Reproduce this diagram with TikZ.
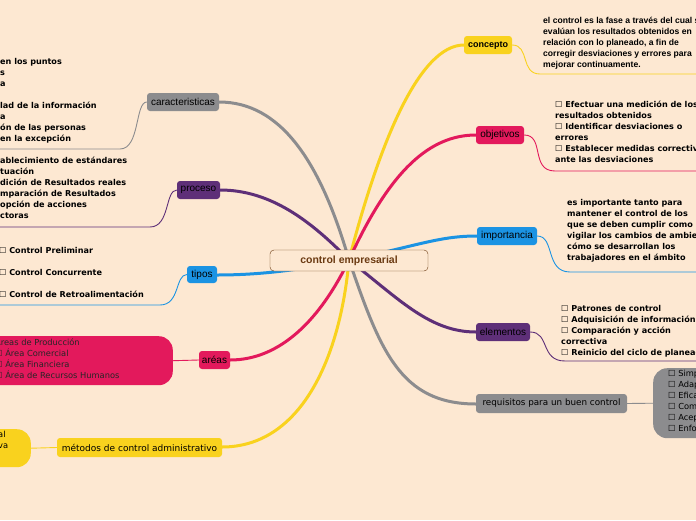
\documentclass[tikz,border=0pt]{standalone}
\usepackage{fontspec}
\setmainfont{Liberation Sans}
\newfontfamily\dvs{DejaVu Sans}
\begin{document}
\begin{tikzpicture}[x=1pt,y=-1pt,
 lab/.style={rounded corners=3pt,inner sep=0pt,text=#1,font=\fontsize{10}{11}\selectfont},
 lst/.style={anchor=north west,align=left,inner sep=0pt,font=\dvs\bfseries\fontsize{8.1}{11}\selectfont},
 reg/.style={anchor=north west,align=left,inner sep=0pt,font=\dvs\fontsize{8.3}{11}\selectfont},
 br/.style={line width=3pt,draw=#1},
 tw/.style={line width=0.9pt,draw=#1}]
\definecolor{bg}{HTML}{FDE8D2}
\definecolor{cy}{HTML}{F9D21E}
\definecolor{cr}{HTML}{E3195C}
\definecolor{cb}{HTML}{1B93E3}
\definecolor{cp}{HTML}{5E2F78}
\definecolor{cg}{HTML}{8C8C8E}
\definecolor{brn}{HTML}{6B3A12}
\clip (0,0) rectangle (696,520);
\fill[bg] (0,0) rectangle (696,520);
\coordinate (c) at (349,260);
% main branches
\draw[br=cg] (c) .. controls (320,160) and (280,102) .. (219,102);
\draw[br=cy] (c) .. controls (380,140) and (420,45) .. (464,45);
\draw[br=cr] (c) .. controls (390,170) and (430,135) .. (476,135);
\draw[br=cb] (c) .. controls (420,245) and (440,236) .. (477,236);
\draw[br=cp] (c) .. controls (400,300) and (430,332) .. (476,332);
\draw[br=cg] (c) .. controls (380,350) and (400,404) .. (476,404);
\draw[br=cp] (c) .. controls (310,220) and (270,190) .. (220,190);
\draw[br=cb] (c) .. controls (300,270) and (260,275) .. (217,275);
\draw[br=cr] (c) .. controls (320,320) and (280,360) .. (230,360);
\draw[br=cy] (c) .. controls (340,360) and (300,447) .. (222,447);
% center
\node[draw=brn,fill=bg,rounded corners=4pt,minimum width=158pt,minimum height=21pt,text=brn,font=\bfseries\fontsize{10.5}{11}\selectfont] (ce) at (349,260.5) {control empresarial};
% right side
\node[lab=black,fill=cy,minimum width=48pt,minimum height=18pt,font=\bfseries\fontsize{9}{10}\selectfont] (co) at (488,45) {concepto};
\draw[tw=cy] (co.east) .. controls (530,45) and (520,74) .. (540,74) -- (696,74);
\node[anchor=north west,align=left,inner sep=0pt,font=\bfseries\fontsize{8.6}{11}\selectfont] at (543,17) {el control es la fase a través del cual se\\evalúan los resultados obtenidos en\\relación con lo planeado, a fin de\\corregir desviaciones y errores para\\mejorar continuamente.};
\node[lab=black,fill=cr,minimum width=48pt,minimum height=18pt] (ob) at (500,135) {objetivos};
\draw[tw=cr] (ob.east) .. controls (545,135) and (530,171) .. (555,171) -- (696,171);
\node[lst] at (555,101) {☐ Efectuar una medición de los\\resultados obtenidos\\☐ Identificar desviaciones o\\errores\\☐ Establecer medidas correctivas\\ante las desviaciones};
\node[lab=black,fill=cb,minimum width=60pt,minimum height=18pt] (im) at (507,236) {importancia};
\draw[tw=cb] (im.east) .. controls (555,236) and (545,272) .. (570,272) -- (696,272);
\node[lst] at (567,199) {es importante tanto para\\mantener el control de los\\que se deben cumplir como\\vigilar los cambios de ambiente\\cómo se desarrollan los\\trabajadores en el ámbito};
\node[lab=black,fill=cp,minimum width=54pt,minimum height=18pt] (el) at (503,332) {elementos};
\draw[tw=cp] (el.east) .. controls (550,332) and (540,361) .. (565,361) -- (696,361);
\node[lst] at (561,305) {☐ Patrones de control\\☐ Adquisición de información\\☐ Comparación y acción\\correctiva\\☐ Reinicio del ciclo de planeación};
\node[lab=black,fill=cg,minimum width=151pt,minimum height=19pt,font=\dvs\fontsize{8.8}{10}\selectfont] (rq) at (551.5,403.5) {requisitos para un buen control};
\node[fill=cg,rounded corners=14pt,anchor=north west,minimum width=80pt,minimum height=70pt,inner sep=0pt] (rb) at (653,368) {};
\draw[tw=cg] (rq.east) -- (rb.west);
\node[reg] at (668,370) {☐ Simple\\☐ Adaptable\\☐ Eficaz\\☐ Comprensible\\☐ Aceptado\\☐ Enfocado};
% left side
\node[lab=black,fill=cg,minimum width=72pt,minimum height=18pt] (ca) at (183,102) {caracteristicas};
\draw[tw=cg] (ca.west) .. controls (135,102) and (140,149) .. (120,149) -- (0,149);
\node[lst] at (0,58) {en los puntos\\s\\a\\\\lad de la información\\a\\ón de las personas\\en la excepción};
\node[lab=black,fill=cp,minimum width=43pt,minimum height=18pt] (pr) at (198.5,190) {proceso};
\draw[tw=cp] (pr.west) .. controls (165,190) and (170,227) .. (150,227) -- (0,227);
\node[lst] at (0,157) {ablecimiento de estándares\\tuación\\dición de Resultados reales\\mparación de Resultados\\opción de acciones\\ctoras};
\node[lab=black,fill=cb,minimum width=30pt,minimum height=17pt] (ti) at (202,274.5) {tipos};
\draw[tw=cb] (ti.west) .. controls (175,275) and (180,305) .. (160,305) -- (0,305);
\node[lst] at (-1,247) {☐ Control Preliminar\\[11pt]☐ Control Concurrente\\[11pt]☐ Control de Retroalimentación};
\node[lab=black,fill=cr,minimum width=31pt,minimum height=18pt] (ar) at (214.5,360) {aréas};
\node[fill=cr,rounded corners=14pt,anchor=north east,minimum width=200pt,minimum height=49pt,inner sep=0pt] (ab) at (173,336) {};
\draw[tw=cr] (ab.east) -- (ar.west);
\node[reg,text=black!85] at (-5,338) {Áreas de Producción\\☐ Área Comercial\\☐ Área Financiera\\☐ Área de Recursos Humanos};
\node[reg] at (-27,338) {☐};
\node[lab=black,fill=cy,minimum width=165pt,minimum height=19pt,font=\dvs\fontsize{9}{10}\selectfont] (me) at (139.5,447.5) {métodos de control administrativo};
\node[fill=cy,rounded corners=14pt,anchor=north east,minimum width=100pt,minimum height=38pt,inner sep=0pt] (mb) at (31,429) {};
\draw[tw=cy] (mb.east) -- (me.west);
\node[reg] at (-2,431) {al\\va};
\end{tikzpicture}
\end{document}
